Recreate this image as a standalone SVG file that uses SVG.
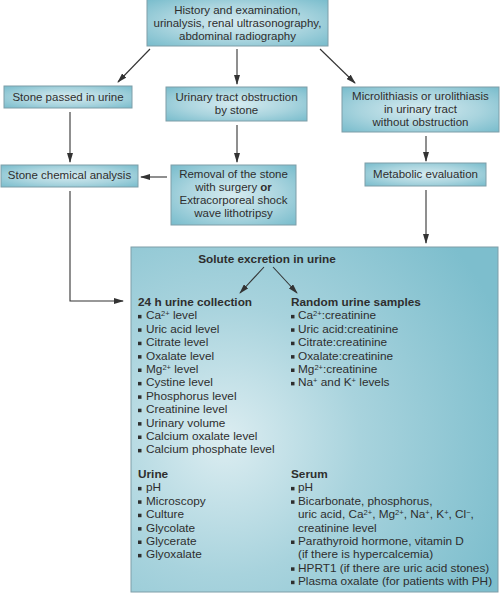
<svg xmlns="http://www.w3.org/2000/svg" width="500" height="594" viewBox="0 0 500 594">
<style>
text{font-family:"Liberation Sans",Arial,sans-serif;font-size:11.8px;fill:#2e2e2e}
.c{text-anchor:middle}
.s{font-size:11.5px}
.h{font-weight:bold}
.box{fill:url(#g);stroke:#7f9ea8;stroke-width:1}
.big{fill:url(#gb);stroke:#7f9ea8;stroke-width:1}
.ln{stroke:#333;stroke-width:1.1;fill:none;marker-end:url(#ah)}
.b{fill:#2e2e2e}
.sup{font-size:7.5px}
</style>
<defs>
<radialGradient id="g" cx="0.5" cy="0.5" r="0.7">
<stop offset="0" stop-color="#d6ebf0"/>
<stop offset="0.55" stop-color="#a9d4de"/>
<stop offset="1" stop-color="#78bccc"/>
</radialGradient>
<radialGradient id="gb" gradientUnits="userSpaceOnUse" cx="225" cy="440" r="300">
<stop offset="0" stop-color="#dcedf1"/>
<stop offset="0.45" stop-color="#a8d3dd"/>
<stop offset="1" stop-color="#7dbecd"/>
</radialGradient>
<marker id="ah" markerWidth="10" markerHeight="6" refX="9" refY="3" orient="auto" markerUnits="userSpaceOnUse">
<path d="M0,0 L10,3 L0,6 z" fill="#333"/>
</marker>
</defs>

<g id="connectors">
<line class="ln" x1="150" y1="49" x2="118" y2="82"/>
<line class="ln" x1="237" y1="49" x2="237" y2="84"/>
<line class="ln" x1="320" y1="49" x2="355" y2="83"/>
<line class="ln" x1="70" y1="112" x2="70" y2="162"/>
<line class="ln" x1="237" y1="125" x2="237" y2="162"/>
<line class="ln" x1="426" y1="136" x2="426" y2="161"/>
<line class="ln" x1="167" y1="177" x2="141" y2="177"/>
<line class="ln" x1="426" y1="190" x2="426" y2="243"/>
<polyline class="ln" points="70,191 70,301 123,301"/>
</g>

<g id="n-history">
<rect class="box" x="147" y="-1" width="181" height="47"/>
<text class="c s" x="237.5" y="14">History and examination,</text>
<text class="c s" x="237.5" y="27">urinalysis, renal ultrasonography,</text>
<text class="c s" x="237.5" y="40">abdominal radiography</text>
</g>

<g id="n-passed">
<rect class="box" x="4" y="86" width="128" height="22"/>
<text class="c s" x="68" y="101">Stone passed in urine</text>
</g>

<g id="n-obstruction">
<rect class="box" x="166" y="87" width="141" height="34"/>
<text class="c s" x="236.5" y="101">Urinary tract obstruction</text>
<text class="c s" x="236.5" y="114">by stone</text>
</g>

<g id="n-micro">
<rect class="box" x="342" y="87" width="157" height="45"/>
<text class="c s" x="420.5" y="100">Microlithiasis or urolithiasis</text>
<text class="c s" x="420.5" y="113">in urinary tract</text>
<text class="c s" x="420.5" y="126">without obstruction</text>
</g>

<g id="n-chem">
<rect class="box" x="1" y="165" width="137" height="22"/>
<text class="c s" x="69.5" y="179">Stone chemical analysis</text>
</g>

<g id="n-removal">
<rect class="box" x="171" y="165" width="125" height="60"/>
<text class="c s" x="233.5" y="178">Removal of the stone</text>
<text class="c s" x="233.5" y="191">with surgery <tspan class="h">or</tspan></text>
<text class="c s" x="233.5" y="204">Extracorporeal shock</text>
<text class="c s" x="233.5" y="217">wave lithotripsy</text>
</g>

<g id="n-metabolic">
<rect class="box" x="365" y="163" width="121" height="23"/>
<text class="c s" x="425.5" y="178">Metabolic evaluation</text>
</g>

<g id="n-solute">
<rect class="big" x="131" y="247" width="367" height="345"/>
<text class="c h" x="267" y="263">Solute excretion in urine</text>
<line class="ln" x1="264" y1="267" x2="240" y2="293"/>
<line class="ln" x1="273" y1="267" x2="297" y2="293"/>

<text class="h" x="138" y="306">24 h urine collection</text>
<text x="146" y="319.4">Ca<tspan class="sup" dy="-3.5">2+</tspan><tspan dy="3.5"> level</tspan></text>
<text x="146" y="332.8">Uric acid level</text>
<text x="146" y="346.2">Citrate level</text>
<text x="146" y="359.6">Oxalate level</text>
<text x="146" y="373">Mg<tspan class="sup" dy="-3.5">2+</tspan><tspan dy="3.5"> level</tspan></text>
<text x="146" y="386.4">Cystine level</text>
<text x="146" y="399.8">Phosphorus level</text>
<text x="146" y="413.2">Creatinine level</text>
<text x="146" y="426.6">Urinary volume</text>
<text x="146" y="440">Calcium oxalate level</text>
<text x="146" y="453.4">Calcium phosphate level</text>
<g class="b">
<rect x="138" y="314.9" width="3.5" height="3.5"/>
<rect x="138" y="328.3" width="3.5" height="3.5"/>
<rect x="138" y="341.7" width="3.5" height="3.5"/>
<rect x="138" y="355.1" width="3.5" height="3.5"/>
<rect x="138" y="368.5" width="3.5" height="3.5"/>
<rect x="138" y="381.9" width="3.5" height="3.5"/>
<rect x="138" y="395.3" width="3.5" height="3.5"/>
<rect x="138" y="408.7" width="3.5" height="3.5"/>
<rect x="138" y="422.1" width="3.5" height="3.5"/>
<rect x="138" y="435.5" width="3.5" height="3.5"/>
<rect x="138" y="448.9" width="3.5" height="3.5"/>
</g>

<text class="h" x="291" y="306">Random urine samples</text>
<text x="298" y="319.4">Ca<tspan class="sup" dy="-3.5">2+</tspan><tspan dy="3.5">:creatinine</tspan></text>
<text x="298" y="332.8">Uric acid:creatinine</text>
<text x="298" y="346.2">Citrate:creatinine</text>
<text x="298" y="359.6">Oxalate:creatinine</text>
<text x="298" y="373">Mg<tspan class="sup" dy="-3.5">2+</tspan><tspan dy="3.5">:creatinine</tspan></text>
<text x="298" y="386.4">Na<tspan class="sup" dy="-3.5">+</tspan><tspan dy="3.5"> and K</tspan><tspan class="sup" dy="-3.5">+</tspan><tspan dy="3.5"> levels</tspan></text>
<g class="b">
<rect x="291" y="314.9" width="3.5" height="3.5"/>
<rect x="291" y="328.3" width="3.5" height="3.5"/>
<rect x="291" y="341.7" width="3.5" height="3.5"/>
<rect x="291" y="355.1" width="3.5" height="3.5"/>
<rect x="291" y="368.5" width="3.5" height="3.5"/>
<rect x="291" y="381.9" width="3.5" height="3.5"/>
</g>

<text class="h" x="138" y="478">Urine</text>
<text x="146" y="491.4">pH</text>
<text x="146" y="504.8">Microscopy</text>
<text x="146" y="518.2">Culture</text>
<text x="146" y="531.6">Glycolate</text>
<text x="146" y="545">Glycerate</text>
<text x="146" y="558.4">Glyoxalate</text>
<g class="b">
<rect x="138" y="486.9" width="3.5" height="3.5"/>
<rect x="138" y="500.3" width="3.5" height="3.5"/>
<rect x="138" y="513.7" width="3.5" height="3.5"/>
<rect x="138" y="527.1" width="3.5" height="3.5"/>
<rect x="138" y="540.5" width="3.5" height="3.5"/>
<rect x="138" y="553.9" width="3.5" height="3.5"/>
</g>

<text class="h" x="291" y="478">Serum</text>
<text x="298" y="491.4">pH</text>
<text x="298" y="504.8">Bicarbonate, phosphorus,</text>
<text x="298" y="518.2">uric acid, Ca<tspan class="sup" dy="-3.5">2+</tspan><tspan dy="3.5">, Mg</tspan><tspan class="sup" dy="-3.5">2+</tspan><tspan dy="3.5">, Na</tspan><tspan class="sup" dy="-3.5">+</tspan><tspan dy="3.5">, K</tspan><tspan class="sup" dy="-3.5">+</tspan><tspan dy="3.5">, Cl</tspan><tspan class="sup" dy="-3.5">−</tspan><tspan dy="3.5">,</tspan></text>
<text x="298" y="531.6">creatinine level</text>
<text x="298" y="545">Parathyroid hormone, vitamin D</text>
<text x="298" y="558.4">(if there is hypercalcemia)</text>
<text x="298" y="571.8">HPRT1 (if there are uric acid stones)</text>
<text x="298" y="585.2">Plasma oxalate (for patients with PH)</text>
<g class="b">
<rect x="291" y="486.9" width="3.5" height="3.5"/>
<rect x="291" y="500.3" width="3.5" height="3.5"/>
<rect x="291" y="540.5" width="3.5" height="3.5"/>
<rect x="291" y="567.3" width="3.5" height="3.5"/>
<rect x="291" y="580.7" width="3.5" height="3.5"/>
</g>
</g>
</svg>
